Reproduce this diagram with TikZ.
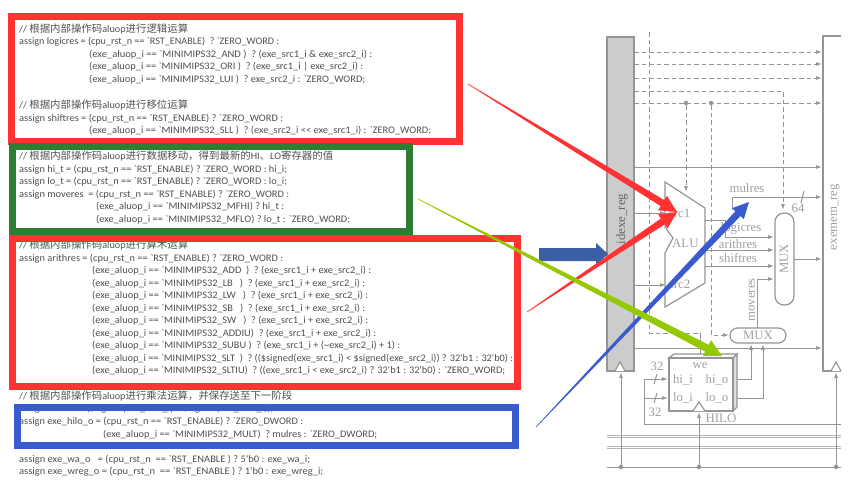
\documentclass[tikz,border=0pt]{standalone}
\usepackage{fontspec}
\usepackage{graphicx}
\usetikzlibrary{calc,arrows.meta}
\newfontfamily\codefont{Carlito}
\newfontfamily\cjk{Noto Sans CJK SC}
\newfontfamily\labfont{Liberation Serif}
\catcode`\_=12
\definecolor{cred}{HTML}{FF3333}
\definecolor{cgreen}{HTML}{2E7D32}
\definecolor{cblue}{HTML}{3A5BD0}
\definecolor{clime}{HTML}{94C800}
\definecolor{cblock}{HTML}{3A5FA5}
\definecolor{ctext}{HTML}{505050}
\definecolor{cline}{HTML}{959595}
\definecolor{clab}{HTML}{A0A0A0}
\newcommand\taper[7]{%
  \coordinate (tph) at ($(#2)!#5pt!(#1)$);
  \fill[#7] ($(#1)!#3pt!90:(#2)$) -- ($(tph)!#4pt!90:(#2)$) -- ($(tph)!#6pt!90:(#2)$) -- (#2)
    -- ($(tph)!#6pt!-90:(#2)$) -- ($(tph)!#4pt!-90:(#2)$) -- ($(#1)!#3pt!-90:(#2)$) -- cycle;}
\newcommand\cn[1]{{\cjk\fontsize{10.2pt}{11pt}\selectfont #1}}
\newcommand\fitw[2]{\resizebox{#1pt}{\height}{#2}}
\tikzset{
  code/.style={anchor=west,inner sep=0pt,yshift=-1.2pt,text height=6.5pt,text depth=2pt,font=\codefont\fontsize{10pt}{11pt}\selectfont,text=ctext},
  hbox/.style={draw=#1,line width=7pt,inner sep=0pt,fill=none},
  ln/.style={draw=cline,line width=1pt},
  arr/.style={ln,-{Latex[length=6pt,width=4pt]}},
  dsh/.style={ln,dash pattern=on 4.5pt off 3pt},
  darr/.style={dsh,-{Latex[length=6pt,width=4pt]}},
  lab/.style={inner sep=0pt,text=clab,font=\labfont\fontsize{12.8pt}{14pt}\selectfont},
  dot/.style={circle,fill=cline,inner sep=0pt,minimum size=4.5pt},
  regclk/.style={ln,fill=white},
}
\begin{document}
\begin{tikzpicture}[x=1pt,y=-1pt]
\useasboundingbox (0,0) rectangle (857,498);
\fill[white] (0,0) rectangle (857,498);
% ---- code text
\node[code] (a1) at (19,29) {\fitw{169}{// \cn{根据内部操作码}aluop\cn{进行逻辑运算}}};
\node[code] (a2) at (19,41.5) {\fitw{260}{assign logicres = (cpu_rst_n == `RST_ENABLE)\ \ ? `ZERO_WORD :}};
\node[code] (a3) at (89,54) {\fitw{283}{(exe_aluop_i == `MINIMIPS32_AND )\ \ ? (exe_src1_i \& exe_src2_i) :}};
\node[code] (a4) at (89,66.5) {\fitw{274}{(exe_aluop_i == `MINIMIPS32_ORI )\ \ ? (exe_src1_i | exe_src2_i) :}};
\node[code] (a5) at (89,79) {\fitw{276}{(exe_aluop_i == `MINIMIPS32_LUI )\ \ ? exe_src2_i : `ZERO_WORD;}};
\node[code] (a6) at (19,105) {\fitw{169}{// \cn{根据内部操作码}aluop\cn{进行移位运算}}};
\node[code] (a7) at (19,118) {\fitw{264}{assign shiftres = (cpu_rst_n == `RST_ENABLE) ? `ZERO_WORD :}};
\node[code] (a8) at (89,130.5) {\fitw{342}{(exe_aluop_i == `MINIMIPS32_SLL )\ \ ? (exe_src2_i << exe_src1_i) : `ZERO_WORD;}};
\node[code] (b1) at (19,156) {\fitw{314}{// \cn{根据内部操作码}aluop\cn{进行数据移动，得到最新的}HI\cn{、}LO\cn{寄存器的值}}};
\node[code] (b2) at (19,169) {\fitw{268}{assign hi_t = (cpu_rst_n == `RST_ENABLE) ? `ZERO_WORD : hi_i;}};
\node[code] (b3) at (19,181.5) {\fitw{268}{assign lo_t = (cpu_rst_n == `RST_ENABLE) ? `ZERO_WORD : lo_i;}};
\node[code] (b4) at (19,194) {\fitw{270}{assign moveres\ \ = (cpu_rst_n == `RST_ENABLE) ? `ZERO_WORD :}};
\node[code] (b5) at (96,206.5) {\fitw{188}{(exe_aluop_i == `MINIMIPS32_MFHI) ? hi_t :}};
\node[code] (b6) at (96,219) {\fitw{254}{(exe_aluop_i == `MINIMIPS32_MFLO) ? lo_t : `ZERO_WORD;}};
\node[code] (c1) at (19,245) {\fitw{169}{// \cn{根据内部操作码}aluop\cn{进行算术运算}}};
\node[code] (c2) at (19,258) {\fitw{264}{assign arithres = (cpu_rst_n == `RST_ENABLE) ? `ZERO_WORD :}};
\node[code] (c3) at (92,270.5) {\fitw{279}{(exe_aluop_i == `MINIMIPS32_ADD\ \ )\ \ ? (exe_src1_i + exe_src2_i) :}};
\node[code] (c4) at (92,283) {\fitw{273}{(exe_aluop_i == `MINIMIPS32_LB\ \ \ )\ \ ? (exe_src1_i + exe_src2_i) :}};
\node[code] (c5) at (92,295.5) {\fitw{276}{(exe_aluop_i == `MINIMIPS32_LW\ \ \ )\ \ ? (exe_src1_i + exe_src2_i) :}};
\node[code] (c6) at (92,308) {\fitw{273}{(exe_aluop_i == `MINIMIPS32_SB\ \ \ )\ \ ? (exe_src1_i + exe_src2_i) :}};
\node[code] (c7) at (92,320.5) {\fitw{276}{(exe_aluop_i == `MINIMIPS32_SW\ \ \ )\ \ ? (exe_src1_i + exe_src2_i) :}};
\node[code] (c8) at (92,333) {\fitw{284}{(exe_aluop_i == `MINIMIPS32_ADDIU)\ \ ? (exe_src1_i + exe_src2_i) :}};
\node[code] (c9) at (92,345.5) {\fitw{308}{(exe_aluop_i == `MINIMIPS32_SUBU )\ \ ? (exe_src1_i + (\textasciitilde exe_src2_i) + 1) :}};
\node[code] (c10) at (92,358) {\fitw{421}{(exe_aluop_i == `MINIMIPS32_SLT\ \ )\ \ ? ((\$signed(exe_src1_i) < \$signed(exe_src2_i)) ? 32'b1 : 32'b0) :}};
\node[code] (c11) at (92,370.5) {\fitw{413}{(exe_aluop_i == `MINIMIPS32_SLTIU)\ \ ? ((exe_src1_i < exe_src2_i) ? 32'b1 : 32'b0) : `ZERO_WORD;}};
\node[code] (d1) at (19,396) {\fitw{273}{// \cn{根据内部操作码}aluop\cn{进行乘法运算，并保存送至下一阶段}}};
\node[code] (d2) at (19,408.5) {\fitw{254}{assign mulres = (\$signed(exe_src1_i) * \$signed(exe_src2_i));}};
\node[code] (d3) at (19,421.5) {\fitw{284}{assign exe_hilo_o = (cpu_rst_n == `RST_ENABLE) ? `ZERO_DWORD :}};
\node[code] (d4) at (103,434) {\fitw{274}{(exe_aluop_i == `MINIMIPS32_MULT)\ \ ? mulres : `ZERO_DWORD;}};
\node[code] (e1) at (19,459) {\fitw{291}{assign exe_wa_o\ \ \ = (cpu_rst_n\ \ == `RST_ENABLE ) ? 5'b0 : exe_wa_i;}};
\node[code] (e2) at (19,471.5) {\fitw{304}{assign exe_wreg_o = (cpu_rst_n\ \ == `RST_ENABLE ) ? 1'b0 : exe_wreg_i;}};
% ---- highlight boxes
\node[hbox=cblue,minimum width=498pt,minimum height=38pt] (bx4) at (266.5,426.5) {};
\node[hbox=cred,minimum width=448pt,minimum height=125pt] (bx1) at (235.5,79) {};
\node[hbox=cred,minimum width=505pt,minimum height=148pt] (bx3) at (265,312.5) {};
\node[hbox=cgreen,minimum width=397pt,minimum height=85pt] (bx2) at (211,189) {};
% ---- datapath: registers
\fill[gray!40,draw=cline,line width=1.3pt] (607,37) rectangle (634,371);
\node[rotate=90,lab,text=black!60] (idex) at (622,219) {idexe_reg};
\draw[ln,line width=1.1pt] (841,36) -- (823,36) -- (823,371) -- (841,371);
\node[rotate=90,lab] (exmem) at (835,217) {exemem_reg};
\draw[regclk,line width=1.1pt] (615,371) -- (620,362) -- (625,371);
\draw[regclk,line width=1.1pt] (831,371) -- (836,362) -- (841,371);
% ---- dashed control lines
\draw[darr] (634,52) -- (822,52);
\draw[darr] (634,64) -- (822,64);
\draw[darr] (634,78) -- (822,78);
\draw[darr] (634,91) -- (783,91) -- (783,210);
\draw[darr] (634,103) -- (822,103);
\draw[dsh] (649,32) -- (649,333) -- (700,333);
\node[dot] (d686) at (686,103) {};
\node[dot] (d711) at (711,103) {};
\draw[darr] (d686) -- (686,192);
\draw[darr] (d711) -- (711,335) -- (729,335);
% ---- solid lines
\draw[arr] (634,167) -- (822,167);
\draw[arr] (634,348) -- (822,348);
\draw[arr] (634,213) -- (666,213);
\draw[arr] (634,285) -- (666,285);
\draw[ln] (700,333) -- (700,354);
% ---- ALU
\draw[ln,line width=1.2pt,fill=white] (665,182) -- (705,208) -- (705,283) -- (665,307) -- (665,253) -- (673,238) -- (665,227) -- cycle;
\node[lab,anchor=west] (alu) at (672,243) {ALU};
\node[lab] (src1) at (679.5,213) {src1};
\node[lab] (src2) at (679.5,284) {src2};
% ---- results
\draw[arr] (705,220) -- (725,220) -- (725,237) -- (774,237);
\draw[arr] (705,250) -- (774,250);
\draw[arr] (705,266) -- (774,266);
\node[lab] (logic) at (741,228) {logicres};
\node[lab] (arith) at (738,244) {arithres};
\node[lab] (shift) at (738,258) {shiftres};
\draw[arr] (732,210) -- (732,197) -- (822,197);
\draw[ln] (801,203) -- (804,191);
\node[lab] (mulres) at (747,188) {mulres};
\node[lab] (n64) at (798,208) {64};
% ---- MUX vertical
\node[draw=cline,line width=1.2pt,fill=white,rounded corners=9pt,minimum width=19pt,minimum height=92pt,inner sep=0pt] (muxv) at (784.5,259) {};
\node[lab,rotate=90] (muxvt) at (784,259) {MUX};
\draw[arr] (794,259) -- (822,259);
% ---- MUX horizontal
\node[draw=cline,line width=1.2pt,fill=white,rounded corners=7.5pt,minimum width=56pt,minimum height=15pt,inner sep=0pt] (muxh) at (758,335.5) {};
\node[lab] (muxht) at (758,335.5) {MUX};
\draw[arr] (757,328) -- (757,279) -- (774,279);
\node[lab,rotate=90] (mov) at (752,300) {moveres};
% ---- HILO
\draw[ln,line width=1.3pt,fill=white] (669,358) -- (674,354) -- (737,354) -- (733,358) -- cycle;
\draw[ln,line width=1.3pt,fill=gray!25] (733,358) -- (737,354) -- (737,407) -- (733,411) -- cycle;
\node[draw=cline,line width=1.3pt,fill=white,minimum width=64pt,minimum height=53pt,inner sep=0pt] (hilo) at (701,384.5) {};
\draw[regclk,line width=1.2pt] (693,411) -- (699,402) -- (705,411);
\node[lab] (we) at (700,366) {we};
\node[lab] (hii) at (683,380) {hi_i};
\node[lab] (hio) at (717,380) {hi_o};
\node[lab] (loi) at (683,398) {lo_i};
\node[lab] (loo) at (717,398) {lo_o};
\node[lab] (hl) at (721,418) {HILO};
\node[lab] (n32a) at (657,366) {32};
\node[lab] (n32b) at (655,412) {32};
\draw[arr] (737,379) -- (751,379) -- (751,344);
\draw[arr] (737,398) -- (763,398) -- (763,344);
\draw[arr] (841,424) -- (644,424) -- (644,379) -- (668,379);
\draw[arr] (644,398) -- (668,398);
\draw[ln] (654,384) -- (657,374);
\draw[ln] (654,403) -- (657,393);
% ---- bus lines
\draw[draw=cline!70,line width=0.6pt] (607,435) -- (841,435);
\draw[draw=cline!70,line width=0.6pt] (607,437.5) -- (841,437.5);
\draw[draw=cline!70,line width=0.6pt] (607,446) -- (841,446);
\draw[draw=cline!70,line width=0.6pt] (607,448.5) -- (841,448.5);
\draw[ln] (607,467) -- (841,467);
\node[dot] (c621) at (621,467) {};
\node[dot] (c699) at (699,467) {};
\node[dot] (c836) at (836,467) {};
\draw[arr] (c621) -- (621,372);
\draw[arr] (c699) -- (699,412);
\draw[arr] (c836) -- (836,372);
% ---- overlay arrows
\coordinate (r1a) at (468,84);
\coordinate (r2a) at (527,312);
\coordinate (rtip) at (677,212);
\coordinate (ga) at (418,199);
\coordinate (gtip) at (722,356);
\coordinate (ba) at (536,427);
\coordinate (btip) at (749,202);
\fill[cblock] (539,248) -- (596,248) -- (596,243) -- (608,254) -- (596,265) -- (596,261) -- (539,261) -- cycle;
\taper{r1a}{rtip}{0.3}{3.5}{17}{8.5}{cred}
\taper{r2a}{rtip}{0.3}{3.5}{17}{8.5}{cred}
\taper{ba}{btip}{0.3}{3.5}{16}{8}{cblue}
\taper{ga}{gtip}{0.3}{3.8}{17}{9}{clime}
\end{tikzpicture}
\end{document}
